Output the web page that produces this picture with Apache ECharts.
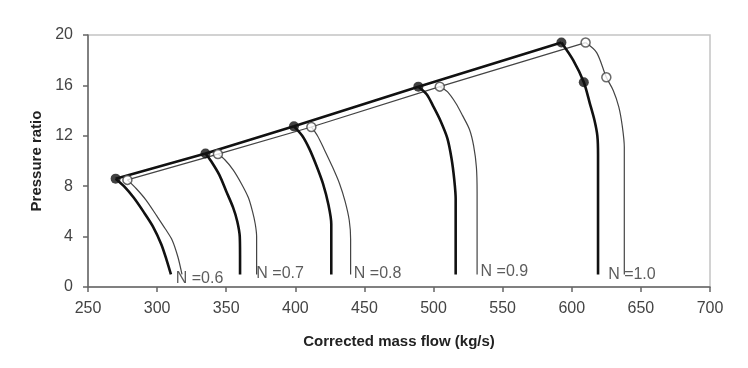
<!DOCTYPE html>
<html>
<head>
<meta charset="utf-8">
<script src="https://cdn.jsdelivr.net/npm/echarts@6/dist/echarts.min.js"></script>
<style>
html,body{margin:0;padding:0;background:#fff;}
#chart{width:748px;height:368px;}
</style>
</head>
<body>
<div id="chart"></div>
<script>
// Axis ticks
var xTicks = [250, 300, 350, 400, 450, 500, 550, 600, 650, 700];
var yTicks = [0, 4, 8, 12, 16, 20];

// Surge lines (markers)
var surgeFilled = [[270, 8.6], [335, 10.6], [399, 12.75], [489, 15.9], [592.5, 19.4]];
var surgeOpen = [[278.5, 8.5], [344, 10.55], [411.6, 12.7], [504.5, 15.9], [610, 19.4]];
var extraFilled = [[608.7, 16.25]];
var extraOpen = [[625, 16.64]];

// Speed lines, thick black (filled-marker set)
var n06Filled = [[270, 8.6], [276, 8.0], [283, 7.1], [290, 6.0], [297, 4.8], [303, 3.4], [307, 2.1], [310, 1.0]];
var n07Filled = [[335, 10.6], [339, 10.0], [345, 8.9], [350, 7.6], [355, 6.3], [358, 5.2], [359.8, 4.0], [360, 2.5], [360, 1.0]];
var n08Filled = [[399, 12.75], [405, 12.0], [410, 11.0], [415, 9.7], [420, 8.2], [424, 6.5], [426, 5.0], [426, 3.0], [426, 1.0]];
var n09Filled = [[489, 15.9], [495, 15.3], [500, 14.3], [505, 13.2], [510, 11.8], [513, 10.2], [515, 8.5], [516, 7.0], [516, 4.0], [516, 1.0]];
var n10Filled = [[592.5, 19.4], [601, 18.0], [608.7, 16.25], [613, 14.6], [616.5, 13.2], [618.5, 12.0], [619, 10.5], [619, 7.0], [619, 4.0], [619, 1.0]];

// Speed lines, thin (open-marker set)
var n06Open = [[278.5, 8.5], [285, 7.8], [292, 6.9], [300, 5.6], [306, 4.6], [311, 3.7], [315, 2.4], [318, 1.0]];
var n07Open = [[344, 10.55], [349, 10.1], [355, 9.3], [361, 8.2], [366, 7.1], [369, 6.0], [371, 5.0], [372, 4.0], [372, 2.5], [372, 1.0]];
var n08Open = [[411.6, 12.7], [416, 12.0], [421, 10.9], [427, 9.5], [432, 8.2], [436, 6.8], [439, 5.3], [440, 3.8], [440, 2.4], [440, 1.0]];
var n09Open = [[504.5, 15.9], [510, 15.5], [516, 14.6], [521, 13.6], [526, 12.5], [529, 11.2], [531, 9.5], [531.5, 7.5], [531.5, 5.0], [531.5, 3.0], [531.5, 1.0]];
var n10Open = [[610, 19.4], [618, 18.6], [625, 16.64], [630, 15.6], [634, 14.3], [636.5, 12.8], [638, 11.1], [638, 8.5], [638, 6.0], [638, 3.5], [638, 1.0]];

// Speed labels
var speedLabels = ["N =0.6", "N =0.7", "N =0.8", "N =0.9", "N =1.0"];
var labelPos = [[313.5, 0.7], [371.8, 1.1], [442.3, 1.1], [534, 1.2], [626.3, 1.0]];

var thick = {color: '#111', width: 2.6};
var thin = {color: '#444', width: 1.2};

function lineSeries(data, style, z) {
  return {type: 'line', data: data, symbol: 'none', smooth: 0.3, lineStyle: style, z: z, silent: true};
}

var series = [];
[n06Filled, n07Filled, n08Filled, n09Filled, n10Filled].forEach(function (d) { series.push(lineSeries(d, thick, 3)); });
[n06Open, n07Open, n08Open, n09Open, n10Open].forEach(function (d) { series.push(lineSeries(d, thin, 2)); });
series.push({type: 'line', data: surgeFilled, symbol: 'none', lineStyle: thick, z: 3});
series.push({type: 'line', data: surgeOpen, symbol: 'none', lineStyle: thin, z: 2});
series.push({type: 'scatter', data: surgeFilled.concat(extraFilled), symbol: 'circle', symbolSize: 10,
  itemStyle: {color: '#111'}, z: 5});
series.push({type: 'scatter', data: surgeOpen.concat(extraOpen), symbol: 'circle', symbolSize: 9,
  itemStyle: {color: '#fff', borderColor: '#444', borderWidth: 1.5}, z: 5});
series.push({type: 'scatter', symbolSize: 0, z: 6,
  data: labelPos.map(function (p, i) { return {value: p, name: speedLabels[i]}; }),
  label: {show: true, position: 'right', distance: 0, formatter: '{b}', color: '#333',
    fontFamily: 'Liberation Sans', fontSize: 16}});

var chart = echarts.init(document.getElementById('chart'));
chart.setOption({
  animation: false,
  backgroundColor: '#fff',
  grid: {left: 88, right: 38, top: 35, bottom: 81, show: true, borderColor: '#c4c4c4', borderWidth: 1.5},
  xAxis: {
    type: 'value', min: xTicks[0], max: xTicks[xTicks.length - 1], interval: 50,
    name: 'Corrected mass flow (kg/s)', nameLocation: 'middle', nameGap: 47,
    nameTextStyle: {fontFamily: 'Liberation Sans', fontWeight: 'bold', fontSize: 15, color: '#222'},
    axisLine: {lineStyle: {color: '#666', width: 1.5}},
    axisTick: {show: true, length: 5, lineStyle: {color: '#666', width: 1.5}},
    axisLabel: {margin: 14, fontFamily: 'Liberation Sans', fontSize: 16, color: '#444'},
    splitLine: {show: false}
  },
  yAxis: {
    type: 'value', min: yTicks[0], max: yTicks[yTicks.length - 1], interval: 4,
    name: 'Pressure ratio', nameLocation: 'middle', nameGap: 40,
    nameTextStyle: {fontFamily: 'Liberation Sans', fontWeight: 'bold', fontSize: 15, color: '#222'},
    axisLine: {show: true, lineStyle: {color: '#666', width: 1.5}},
    axisTick: {show: true, length: 5, lineStyle: {color: '#666', width: 1.5}},
    axisLabel: {margin: 15, fontFamily: 'Liberation Sans', fontSize: 16, color: '#444'},
    splitLine: {show: false}
  },
  series: series
});
</script>
</body>
</html>
